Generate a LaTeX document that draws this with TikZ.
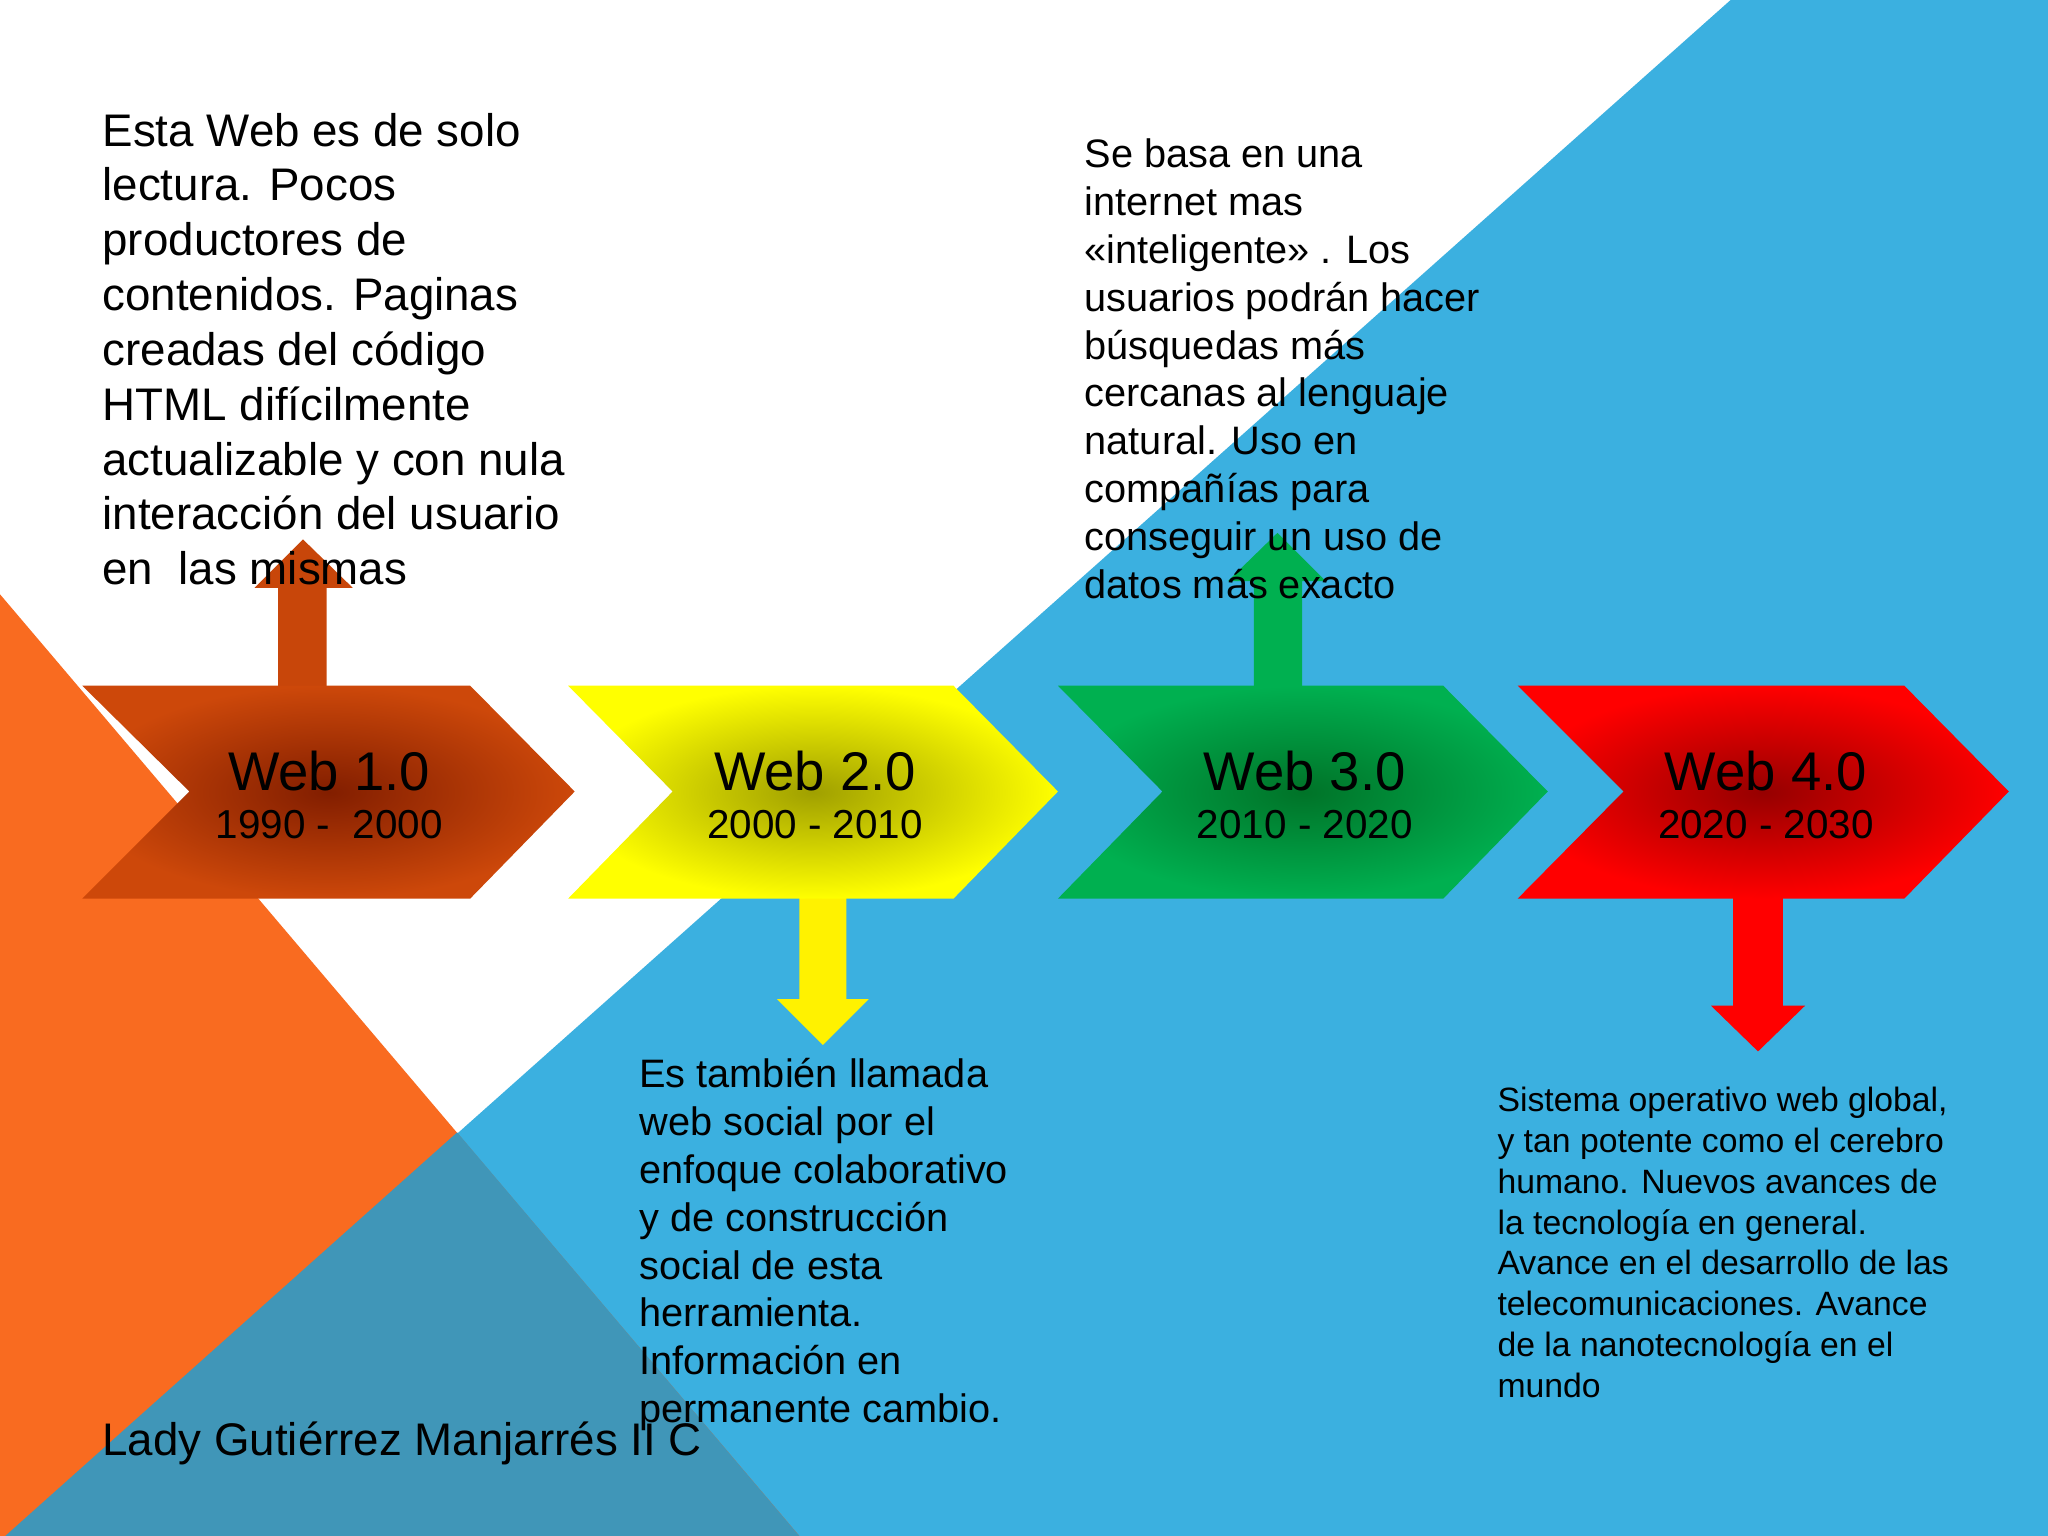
\documentclass[tikz,border=0pt]{standalone}
\usepackage{fontspec}
\setmainfont{Liberation Sans}
\definecolor{org}{HTML}{F96B20}
\definecolor{blu}{HTML}{3BB0E0}
\definecolor{ovl}{HTML}{4096B8}
\tikzset{
 txt/.style={anchor=north west,inner sep=0pt,align=left},
 big/.style={txt,font=\fontsize{13}{15.6}\selectfont},
 mid/.style={txt,font=\fontsize{11.3}{13.6}\selectfont},
 sml/.style={txt,font=\fontsize{9.6}{11.6}\selectfont},
 ttl/.style={font=\fontsize{15.5}{17}\selectfont},
 yr/.style={font=\fontsize{11.5}{13}\selectfont},
}
\begin{document}
\begin{tikzpicture}[x=0.013061cm,y=-0.013061cm]
\useasboundingbox (0,0) rectangle (1568,1176);
\fill[white] (0,0) rectangle (1568,1176);
\fill[blu] (1325,0) -- (1568,0) -- (1568,1176) -- (4,1176) -- cycle;
\fill[org] (0,455) -- (612,1176) -- (0,1176) -- cycle;
\fill[ovl] (350,867) -- (612,1176) -- (4,1176) -- cycle;
% arrows
\fill[fill={rgb,255:red,200;green,70;blue,10}] (213,530) -- (213,450) -- (195,450) -- (232,413) -- (270,450) -- (250,450) -- (250,530) -- cycle;
\fill[yellow] (612,680) -- (612,765) -- (595,765) -- (630,800) -- (665,765) -- (648,765) -- (648,680) -- cycle;
\fill[fill={rgb,255:red,0;green,176;blue,80}] (960,530) -- (960,445) -- (940,445) -- (978,408) -- (1015,445) -- (997,445) -- (997,530) -- cycle;
\fill[red] (1327,680) -- (1327,770) -- (1310,770) -- (1346,805) -- (1382,770) -- (1365,770) -- (1365,680) -- cycle;
% chevrons
\shade[inner color={rgb,255:red,130;green,30;blue,0},outer color={rgb,255:red,205;green,72;blue,10}]
 (63,525) -- (360,525) -- (440,606) -- (360,688) -- (63,688) -- (145,606) -- cycle;
\shade[inner color={rgb,255:red,160;green,160;blue,0},outer color=yellow]
 (435,525) -- (730,525) -- (810,606) -- (730,688) -- (435,688) -- (515,606) -- cycle;
\shade[inner color={rgb,255:red,0;green,115;blue,40},outer color={rgb,255:red,0;green,176;blue,80}]
 (810,525) -- (1105,525) -- (1185,606) -- (1105,688) -- (810,688) -- (890,606) -- cycle;
\shade[inner color={rgb,255:red,150;green,0;blue,0},outer color=red]
 (1162,525) -- (1458,525) -- (1538,606) -- (1458,688) -- (1162,688) -- (1243,606) -- cycle;
\node[ttl] (t1) at (252,590) {Web 1.0};
\node[yr] (y1) at (252,631) {1990 -\ \ 2000};
\node[ttl] (t2) at (624,590) {Web 2.0};
\node[yr] (y2) at (624,631) {2000 - 2010};
\node[ttl] (t3) at (999,590) {Web 3.0};
\node[yr] (y3) at (999,631) {2010 - 2020};
\node[ttl] (t4) at (1352,590) {Web 4.0};
\node[yr] (y4) at (1352,631) {2020 - 2030};
% texts
\node[big] (d1) at (78,86) {Esta Web es de solo\\lectura. Pocos\\productores de\\contenidos. Paginas\\creadas del código\\HTML difícilmente\\actualizable y con nula\\interacción del usuario\\en\ \ las mismas};
\node[mid] (d3) at (830,106) {Se basa en una\\internet mas\\«inteligente» . Los\\usuarios podrán hacer\\búsquedas más\\cercanas al lenguaje\\natural. Uso en\\compañías para\\conseguir un uso de\\datos más exacto};
\node[mid] (d2) at (489,810) {Es también llamada\\web social por el\\enfoque colaborativo\\y de construcción\\social de esta\\herramienta.\\Información en\\permanente cambio.};
\node[sml] (d4) at (1146,832) {Sistema operativo web global,\\y tan potente como el cerebro\\humano. Nuevos avances de\\la tecnología en general.\\Avance en el desarrollo de las\\telecomunicaciones. Avance\\de la nanotecnología en el\\mundo};
\node[big] (au) at (78,1088) {Lady Gutiérrez Manjarrés II C};
\end{tikzpicture}
\end{document}
